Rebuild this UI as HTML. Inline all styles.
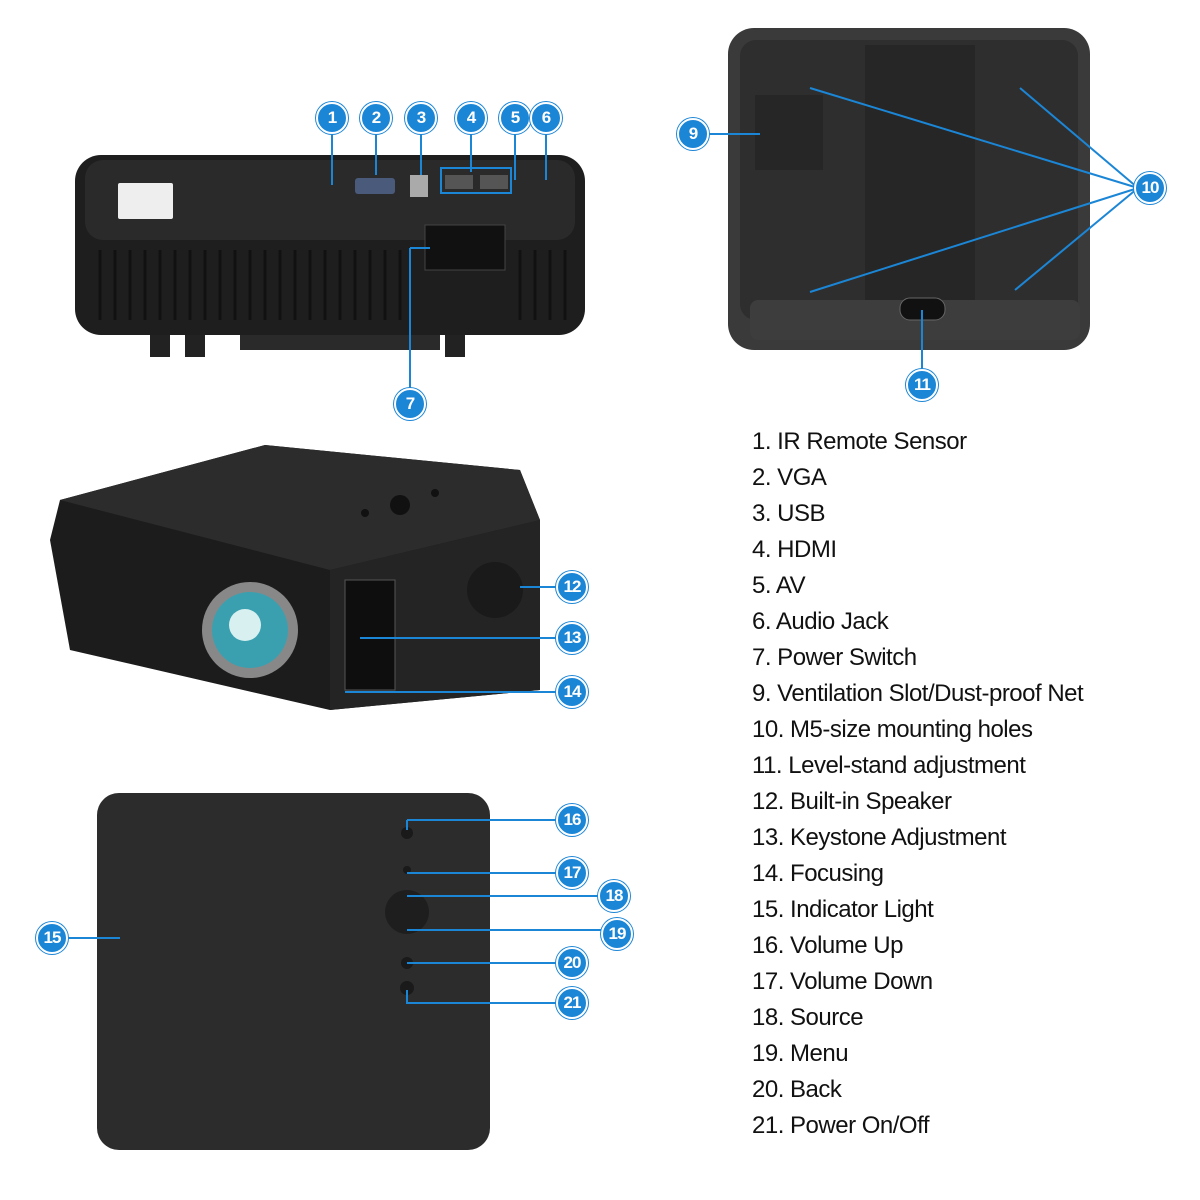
<!DOCTYPE html>
<html><head><meta charset="utf-8"><style>
body{margin:0;width:1200px;height:1200px;background:#fff;position:relative;overflow:hidden;font-family:"Liberation Sans",sans-serif}
.c{position:absolute;width:28px;height:28px;border-radius:50%;background:#1c86d6;color:#fff;font-weight:bold;font-size:17px;line-height:28px;text-align:center;border:2px solid #fff;box-shadow:0 0 0 1px #1c86d6;letter-spacing:-1px}
.abs{position:absolute}
.list{position:absolute;left:752px;top:424px;font-size:24px;color:#111;line-height:36px;letter-spacing:-0.5px}
</style></head><body>
<svg class="abs" style="left:0;top:0" width="1200" height="1200">
<!-- back view -->
<rect x="75" y="155" width="510" height="180" rx="26" fill="#1e1e1e"/>
<rect x="85" y="160" width="490" height="80" rx="18" fill="#2a2a2a"/>
<g stroke="#111" stroke-width="3">
<line x1="100" y1="250" x2="100" y2="320"/><line x1="115" y1="250" x2="115" y2="320"/><line x1="130" y1="250" x2="130" y2="320"/><line x1="145" y1="250" x2="145" y2="320"/><line x1="160" y1="250" x2="160" y2="320"/><line x1="175" y1="250" x2="175" y2="320"/><line x1="190" y1="250" x2="190" y2="320"/><line x1="205" y1="250" x2="205" y2="320"/><line x1="220" y1="250" x2="220" y2="320"/><line x1="235" y1="250" x2="235" y2="320"/><line x1="250" y1="250" x2="250" y2="320"/><line x1="265" y1="250" x2="265" y2="320"/><line x1="280" y1="250" x2="280" y2="320"/><line x1="295" y1="250" x2="295" y2="320"/><line x1="310" y1="250" x2="310" y2="320"/><line x1="325" y1="250" x2="325" y2="320"/><line x1="340" y1="250" x2="340" y2="320"/><line x1="355" y1="250" x2="355" y2="320"/><line x1="370" y1="250" x2="370" y2="320"/><line x1="385" y1="250" x2="385" y2="320"/><line x1="400" y1="250" x2="400" y2="320"/><line x1="520" y1="250" x2="520" y2="320"/><line x1="535" y1="250" x2="535" y2="320"/><line x1="550" y1="250" x2="550" y2="320"/><line x1="565" y1="250" x2="565" y2="320"/>
</g>
<rect x="118" y="183" width="55" height="36" fill="#eee" rx="2"/>
<rect x="425" y="225" width="80" height="45" fill="#111" stroke="#444"/>
<rect x="355" y="178" width="40" height="16" fill="#4a5a7a" rx="3"/>
<rect x="410" y="175" width="18" height="22" fill="#aaa"/>
<rect x="445" y="175" width="28" height="14" fill="#555"/><rect x="480" y="175" width="28" height="14" fill="#555"/>
<rect x="150" y="335" width="20" height="22" fill="#222"/><rect x="185" y="335" width="20" height="22" fill="#222"/><rect x="445" y="335" width="20" height="22" fill="#222"/><rect x="240" y="335" width="200" height="15" fill="#2a2a2a"/>
<g stroke="#1c86d6" stroke-width="2">
<line x1="332" y1="132" x2="332" y2="185"/><line x1="376" y1="132" x2="376" y2="175"/><line x1="421" y1="132" x2="421" y2="175"/><line x1="471" y1="132" x2="471" y2="172"/><line x1="515" y1="132" x2="515" y2="180"/><line x1="546" y1="132" x2="546" y2="180"/><line x1="410" y1="390" x2="410" y2="248"/><line x1="410" y1="248" x2="430" y2="248"/>
<rect x="441" y="168" width="70" height="25" fill="none"/>
</g>
<!-- bottom view -->
<rect x="728" y="28" width="362" height="322" rx="26" fill="#3a3a3a"/>
<rect x="740" y="40" width="338" height="280" rx="16" fill="#2e2e2e"/>
<rect x="865" y="45" width="110" height="270" fill="#262626"/>
<rect x="750" y="300" width="330" height="40" rx="8" fill="#3d3d3d"/>
<rect x="900" y="298" width="45" height="22" rx="10" fill="#111" stroke="#666"/>
<rect x="755" y="95" width="68" height="75" fill="#262626"/>
<g stroke="#1c86d6" stroke-width="2">
<line x1="707" y1="134" x2="760" y2="134"/>
<line x1="810" y1="88" x2="1138" y2="188"/><line x1="1020" y1="88" x2="1138" y2="188"/><line x1="810" y1="292" x2="1138" y2="188"/><line x1="1015" y1="290" x2="1138" y2="188"/>
<line x1="922" y1="310" x2="922" y2="372"/>
</g>
<!-- 3/4 view -->
<path d="M60 500 L265 445 L520 470 L540 520 L540 690 L330 710 L70 650 L50 540 Z" fill="#1c1c1c"/>
<path d="M60 500 L265 445 L520 470 L540 520 L330 570 Z" fill="#2c2c2c"/>
<path d="M330 570 L540 520 L540 690 L330 710 Z" fill="#242424"/>
<rect x="345" y="580" width="50" height="110" fill="#0e0e0e" stroke="#555"/>
<circle cx="495" cy="590" r="28" fill="#1a1a1a"/>
<circle cx="250" cy="630" r="48" fill="#888"/><circle cx="250" cy="630" r="38" fill="#3aa0b0"/><circle cx="245" cy="625" r="16" fill="#d8f0f0"/>
<circle cx="400" cy="505" r="10" fill="#111"/><circle cx="435" cy="493" r="4" fill="#111"/><circle cx="365" cy="513" r="4" fill="#111"/>
<g stroke="#1c86d6" stroke-width="2"><line x1="520" y1="587" x2="557" y2="587"/><line x1="360" y1="638" x2="557" y2="638"/><line x1="345" y1="692" x2="557" y2="692"/></g>
<!-- top view -->
<rect x="97" y="793" width="393" height="357" rx="22" fill="#2c2c2c"/>
<circle cx="407" cy="833" r="6" fill="#1a1a1a"/><circle cx="407" cy="870" r="4" fill="#1a1a1a"/><circle cx="407" cy="912" r="22" fill="#1e1e1e"/><circle cx="407" cy="963" r="6" fill="#1a1a1a"/><circle cx="407" cy="988" r="7" fill="#1a1a1a"/>
<g stroke="#1c86d6" stroke-width="2" fill="none">
<line x1="66" y1="938" x2="120" y2="938"/>
<line x1="407" y1="820" x2="558" y2="820"/><line x1="407" y1="820" x2="407" y2="830"/>
<line x1="407" y1="873" x2="558" y2="873"/>
<line x1="407" y1="896" x2="600" y2="896"/>
<line x1="407" y1="930" x2="603" y2="930"/>
<line x1="407" y1="963" x2="558" y2="963"/>
<polyline points="407,990 407,1003 558,1003"/>
</g>
</svg>
<div class="c" style="left:316px;top:102px">1</div><div class="c" style="left:360px;top:102px">2</div><div class="c" style="left:405px;top:102px">3</div><div class="c" style="left:455px;top:102px">4</div><div class="c" style="left:499px;top:102px">5</div><div class="c" style="left:530px;top:102px">6</div><div class="c" style="left:394px;top:388px">7</div>
<div class="c" style="left:677px;top:118px">9</div><div class="c" style="left:1134px;top:172px">10</div><div class="c" style="left:906px;top:369px">11</div>
<div class="c" style="left:556px;top:571px">12</div><div class="c" style="left:556px;top:622px">13</div><div class="c" style="left:556px;top:676px">14</div>
<div class="c" style="left:36px;top:922px">15</div><div class="c" style="left:556px;top:804px">16</div><div class="c" style="left:556px;top:857px">17</div><div class="c" style="left:598px;top:880px">18</div><div class="c" style="left:601px;top:918px">19</div><div class="c" style="left:556px;top:947px">20</div><div class="c" style="left:556px;top:987px">21</div>
<div class="list">1. IR Remote Sensor<br>2. VGA<br>3. USB<br>4. HDMI<br>5. AV<br>6. Audio Jack<br>7. Power Switch<br>9. Ventilation Slot/Dust-proof Net<br>10. M5-size mounting holes<br>11. Level-stand adjustment<br>12. Built-in Speaker<br>13. Keystone Adjustment<br>14. Focusing<br>15. Indicator Light<br>16. Volume Up<br>17. Volume Down<br>18. Source<br>19. Menu<br>20. Back<br>21. Power On/Off</div>
</body></html>
